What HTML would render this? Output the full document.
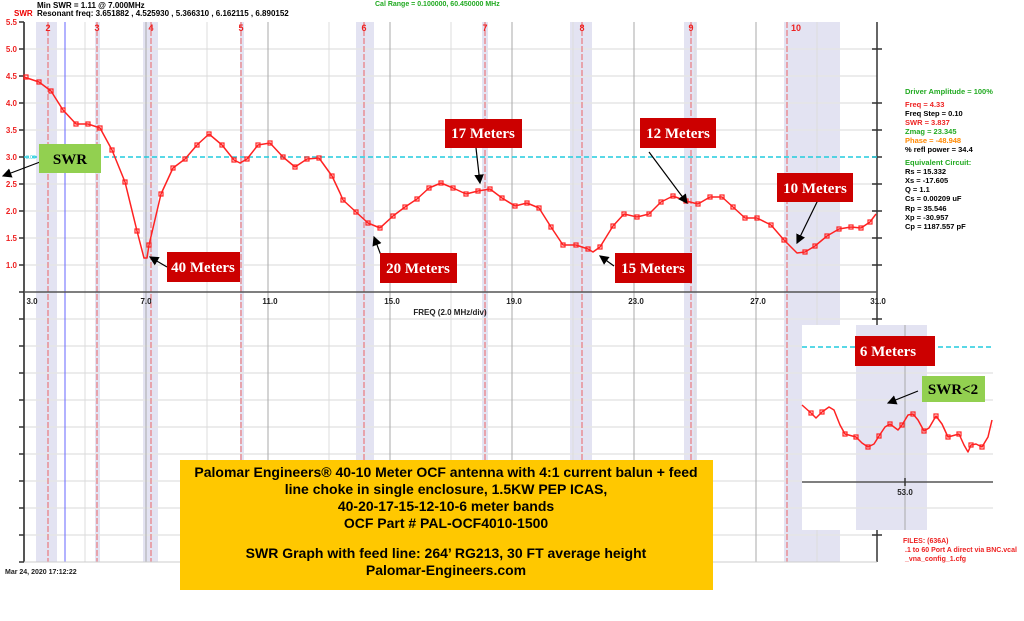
<!DOCTYPE html>
<html><head><meta charset="utf-8"><style>
body{margin:0;background:#fff;width:1024px;height:621px;overflow:hidden;font-family:"Liberation Sans",sans-serif}
svg{display:block}
.t{font-family:"Liberation Sans",sans-serif;font-weight:bold}
.s{font-family:"Liberation Serif",serif;font-weight:bold;fill:#fff;font-size:15px}
</style></head><body>
<svg width="1024" height="621" viewBox="0 0 1024 621">
<text class="t" x="37" y="8" font-size="8" fill="#000">Min SWR =   1.11 @  7.000MHz</text>
<text class="t" x="14" y="16" font-size="8" fill="#e00">SWR</text>
<text class="t" x="37" y="16" font-size="8" fill="#000">Resonant freq:  3.651882 , 4.525930 , 5.366310 , 6.162115 , 6.890152</text>
<text class="t" x="375" y="6" font-size="7" fill="#2a2">Cal Range = 0.100000,  60.450000 MHz</text>
<g fill="#e3e3f2">
<rect x="36" y="22" width="21" height="540"/>
<rect x="95" y="22" width="5" height="540"/>
<rect x="143" y="22" width="15" height="540"/>
<rect x="240" y="22" width="4" height="540"/>
<rect x="356" y="22" width="18" height="540"/>
<rect x="482" y="22" width="6" height="540"/>
<rect x="570" y="22" width="22" height="540"/>
<rect x="684" y="22" width="13" height="540"/>
<rect x="784" y="22" width="56" height="540"/>
</g>
<g stroke="#e6e6e6" stroke-width="1.5">
<line x1="24" y1="49" x2="877" y2="49"/><line x1="24" y1="76" x2="877" y2="76"/><line x1="24" y1="103" x2="877" y2="103"/><line x1="24" y1="130" x2="877" y2="130"/><line x1="24" y1="184" x2="877" y2="184"/><line x1="24" y1="211" x2="877" y2="211"/><line x1="24" y1="238" x2="877" y2="238"/><line x1="24" y1="265" x2="877" y2="265"/>
<line x1="24" y1="319" x2="877" y2="319"/><line x1="24" y1="346" x2="877" y2="346"/><line x1="24" y1="373" x2="877" y2="373"/><line x1="24" y1="400" x2="877" y2="400"/><line x1="24" y1="427" x2="877" y2="427"/><line x1="24" y1="454" x2="877" y2="454"/><line x1="24" y1="481" x2="877" y2="481"/><line x1="24" y1="508" x2="877" y2="508"/><line x1="24" y1="535" x2="877" y2="535"/>
</g>
<g stroke="#dcdcdc" stroke-width="1">
<line x1="85" y1="22" x2="85" y2="562"/><line x1="207" y1="22" x2="207" y2="562"/><line x1="329" y1="22" x2="329" y2="562"/><line x1="451" y1="22" x2="451" y2="562"/><line x1="573" y1="22" x2="573" y2="562"/><line x1="695" y1="22" x2="695" y2="562"/><line x1="817" y1="22" x2="817" y2="562"/>
</g>
<g stroke="#aaa" stroke-width="1">
<line x1="146" y1="22" x2="146" y2="562"/><line x1="268" y1="22" x2="268" y2="562"/><line x1="390" y1="22" x2="390" y2="562"/><line x1="512" y1="22" x2="512" y2="562"/><line x1="634" y1="22" x2="634" y2="562"/><line x1="756" y1="22" x2="756" y2="562"/>
</g>
<line x1="65" y1="22" x2="65" y2="562" stroke="#66f" stroke-width="1"/>
<g stroke="#e44" stroke-width="1" stroke-dasharray="6,2" opacity="0.8">
<line x1="48" y1="22" x2="48" y2="562"/><line x1="97" y1="22" x2="97" y2="562"/><line x1="151" y1="22" x2="151" y2="562"/><line x1="241" y1="22" x2="241" y2="562"/><line x1="364" y1="22" x2="364" y2="562"/><line x1="485" y1="22" x2="485" y2="562"/><line x1="582" y1="22" x2="582" y2="562"/><line x1="691" y1="22" x2="691" y2="562"/><line x1="787" y1="22" x2="787" y2="562"/>
</g>
<g class="t" font-size="9" fill="#e22" text-anchor="middle">
<text x="48" y="31">2</text><text x="97" y="31">3</text><text x="151" y="31">4</text><text x="241" y="31">5</text><text x="364" y="31">6</text><text x="485" y="31">7</text><text x="582" y="31">8</text><text x="691" y="31">9</text><text x="796" y="31">10</text>
</g>
<line x1="24" y1="22" x2="24" y2="562" stroke="#555" stroke-width="2"/>
<line x1="877" y1="22" x2="877" y2="562" stroke="#333" stroke-width="1.5"/>
<line x1="24" y1="292" x2="877" y2="292" stroke="#555" stroke-width="1.5"/>
<line x1="24" y1="562" x2="877" y2="562" stroke="#ccc" stroke-width="1"/>
<g stroke="#333" stroke-width="1.5">
<line x1="19" y1="22" x2="24" y2="22"/><line x1="19" y1="49" x2="24" y2="49"/><line x1="19" y1="76" x2="24" y2="76"/><line x1="19" y1="103" x2="24" y2="103"/><line x1="19" y1="130" x2="24" y2="130"/><line x1="19" y1="157" x2="24" y2="157"/><line x1="19" y1="184" x2="24" y2="184"/><line x1="19" y1="211" x2="24" y2="211"/><line x1="19" y1="238" x2="24" y2="238"/><line x1="19" y1="265" x2="24" y2="265"/><line x1="19" y1="292" x2="24" y2="292"/>
<line x1="19" y1="319" x2="24" y2="319"/><line x1="19" y1="346" x2="24" y2="346"/><line x1="19" y1="373" x2="24" y2="373"/><line x1="19" y1="400" x2="24" y2="400"/><line x1="19" y1="427" x2="24" y2="427"/><line x1="19" y1="454" x2="24" y2="454"/><line x1="19" y1="481" x2="24" y2="481"/><line x1="19" y1="508" x2="24" y2="508"/><line x1="19" y1="535" x2="24" y2="535"/><line x1="19" y1="562" x2="24" y2="562"/>
<line x1="872" y1="49" x2="882" y2="49"/><line x1="872" y1="103" x2="882" y2="103"/><line x1="872" y1="130" x2="882" y2="130"/><line x1="872" y1="157" x2="882" y2="157"/><line x1="872" y1="184" x2="882" y2="184"/><line x1="872" y1="211" x2="882" y2="211"/><line x1="872" y1="238" x2="882" y2="238"/><line x1="872" y1="265" x2="882" y2="265"/><line x1="872" y1="319" x2="882" y2="319"/><line x1="872" y1="373" x2="882" y2="373"/><line x1="872" y1="427" x2="882" y2="427"/><line x1="872" y1="481" x2="882" y2="481"/><line x1="872" y1="535" x2="882" y2="535"/>
</g>
<g class="t" font-size="8" fill="#e22" text-anchor="end">
<text x="17" y="25">5.5</text><text x="17" y="52">5.0</text><text x="17" y="79">4.5</text><text x="17" y="106">4.0</text><text x="17" y="133">3.5</text><text x="17" y="160">3.0</text><text x="17" y="187">2.5</text><text x="17" y="214">2.0</text><text x="17" y="241">1.5</text><text x="17" y="268">1.0</text>
</g>
<g class="t" font-size="8" fill="#222" text-anchor="middle">
<text x="32" y="304">3.0</text><text x="146" y="304">7.0</text><text x="270" y="304">11.0</text><text x="392" y="304">15.0</text><text x="514" y="304">19.0</text><text x="636" y="304">23.0</text><text x="758" y="304">27.0</text><text x="878" y="304">31.0</text>
<text x="450" y="315">FREQ (2.0 MHz/div)</text>
</g>
<text class="t" x="5" y="574" font-size="7" fill="#222">Mar 24, 2020  17:12:22</text>
<line x1="24" y1="157" x2="877" y2="157" stroke="#2cd" stroke-width="1.5" stroke-dasharray="5,3"/>
<text x="26" y="159" font-size="5" fill="#2cd">3.00</text>
<polyline fill="none" stroke="#f22" stroke-width="1.5" stroke-linejoin="round" points="24,77 39,82 51,91 63,110 76,124 88,124 100,128 112,150 125,182 137,231 144,258 147,258 149,245 161,194 173,168 185,159 197,145 209,134 222,145 234,160 240,163 247,159 258,145 270,143 283,157 295,167 307,159 319,158 332,176 340,193 343,200 356,212 368,223 380,228 393,216 405,207 417,199 429,188 441,183 453,188 466,194 478,191 490,189 502,198 515,206 527,203 539,208 551,227 563,245 576,245 588,249 593,252 600,247 613,226 624,214 637,217 649,214 661,202 673,196 686,201 698,204 710,197 722,197 733,207 745,218 757,218 771,225 784,240 797,253 805,252 815,246 827,236 839,229 851,227 861,228 870,222 876,214"/>
<g fill="none" stroke="#f22" stroke-width="1.2">
<rect x="24" y="75" width="4" height="4"/><rect x="37" y="80" width="4" height="4"/><rect x="49" y="89" width="4" height="4"/><rect x="61" y="108" width="4" height="4"/><rect x="74" y="122" width="4" height="4"/><rect x="86" y="122" width="4" height="4"/><rect x="98" y="126" width="4" height="4"/><rect x="110" y="148" width="4" height="4"/><rect x="123" y="180" width="4" height="4"/><rect x="135" y="229" width="4" height="4"/><rect x="147" y="243" width="4" height="4"/><rect x="159" y="192" width="4" height="4"/><rect x="171" y="166" width="4" height="4"/><rect x="183" y="157" width="4" height="4"/><rect x="195" y="143" width="4" height="4"/><rect x="207" y="132" width="4" height="4"/><rect x="220" y="143" width="4" height="4"/><rect x="232" y="158" width="4" height="4"/><rect x="245" y="157" width="4" height="4"/><rect x="256" y="143" width="4" height="4"/><rect x="268" y="141" width="4" height="4"/><rect x="281" y="155" width="4" height="4"/><rect x="293" y="165" width="4" height="4"/><rect x="305" y="157" width="4" height="4"/><rect x="317" y="156" width="4" height="4"/><rect x="330" y="174" width="4" height="4"/><rect x="341" y="198" width="4" height="4"/><rect x="354" y="210" width="4" height="4"/><rect x="366" y="221" width="4" height="4"/><rect x="378" y="226" width="4" height="4"/><rect x="391" y="214" width="4" height="4"/><rect x="403" y="205" width="4" height="4"/><rect x="415" y="197" width="4" height="4"/><rect x="427" y="186" width="4" height="4"/><rect x="439" y="181" width="4" height="4"/><rect x="451" y="186" width="4" height="4"/><rect x="464" y="192" width="4" height="4"/><rect x="476" y="189" width="4" height="4"/><rect x="488" y="187" width="4" height="4"/><rect x="500" y="196" width="4" height="4"/><rect x="513" y="204" width="4" height="4"/><rect x="525" y="201" width="4" height="4"/><rect x="537" y="206" width="4" height="4"/><rect x="549" y="225" width="4" height="4"/><rect x="561" y="243" width="4" height="4"/><rect x="574" y="243" width="4" height="4"/><rect x="586" y="247" width="4" height="4"/><rect x="598" y="245" width="4" height="4"/><rect x="611" y="224" width="4" height="4"/><rect x="622" y="212" width="4" height="4"/><rect x="635" y="215" width="4" height="4"/><rect x="647" y="212" width="4" height="4"/><rect x="659" y="200" width="4" height="4"/><rect x="671" y="194" width="4" height="4"/><rect x="684" y="199" width="4" height="4"/><rect x="696" y="202" width="4" height="4"/><rect x="708" y="195" width="4" height="4"/><rect x="720" y="195" width="4" height="4"/><rect x="731" y="205" width="4" height="4"/><rect x="743" y="216" width="4" height="4"/><rect x="755" y="216" width="4" height="4"/><rect x="769" y="223" width="4" height="4"/><rect x="782" y="238" width="4" height="4"/><rect x="803" y="250" width="4" height="4"/><rect x="813" y="244" width="4" height="4"/><rect x="825" y="234" width="4" height="4"/><rect x="837" y="227" width="4" height="4"/><rect x="849" y="225" width="4" height="4"/><rect x="859" y="226" width="4" height="4"/><rect x="868" y="220" width="4" height="4"/>
</g>
<rect x="802" y="325" width="191" height="205" fill="#fff"/>
<rect x="856" y="325" width="71" height="205" fill="#e3e3f2"/>
<g stroke="#e6e6e6" stroke-width="1.5"><line x1="802" y1="373" x2="993" y2="373"/><line x1="802" y1="400" x2="993" y2="400"/><line x1="802" y1="427" x2="993" y2="427"/><line x1="802" y1="454" x2="993" y2="454"/><line x1="802" y1="508" x2="993" y2="508"/></g>
<line x1="905" y1="325" x2="905" y2="530" stroke="#aaa"/>
<line x1="802" y1="347" x2="993" y2="347" stroke="#2cd" stroke-width="1.5" stroke-dasharray="5,3"/>
<line x1="802" y1="482" x2="993" y2="482" stroke="#555" stroke-width="1.5"/>
<line x1="905" y1="478" x2="905" y2="486" stroke="#333" stroke-width="1.5"/>
<text class="t" x="905" y="495" font-size="8" fill="#222" text-anchor="middle">53.0</text>
<polyline fill="none" stroke="#f22" stroke-width="1.5" stroke-linejoin="round" points="802,405 811,413 816,418 822,412 829,407 834,410 840,425 845,434 856,437 862,443 868,447 874,444 879,436 885,427 890,424 898,430 902,425 908,415 913,414 918,420 924,431 929,428 936,416 942,424 948,437 959,434 964,445 968,452 971,445 976,444 982,447 988,437 992,420"/>
<g fill="none" stroke="#f22" stroke-width="1.2"><rect x="809" y="411" width="4" height="4"/><rect x="820" y="410" width="4" height="4"/><rect x="843" y="432" width="4" height="4"/><rect x="854" y="435" width="4" height="4"/><rect x="866" y="445" width="4" height="4"/><rect x="877" y="434" width="4" height="4"/><rect x="888" y="422" width="4" height="4"/><rect x="900" y="423" width="4" height="4"/><rect x="911" y="412" width="4" height="4"/><rect x="922" y="429" width="4" height="4"/><rect x="934" y="414" width="4" height="4"/><rect x="946" y="435" width="4" height="4"/><rect x="957" y="432" width="4" height="4"/><rect x="969" y="443" width="4" height="4"/><rect x="980" y="445" width="4" height="4"/></g>
<text class="t" x="903" y="543" font-size="7" fill="#e22">FILES: (636A)</text>
<text class="t" x="905" y="552" font-size="7" fill="#e22">.1 to 60 Port A direct via BNC.vcal</text>
<text class="t" x="905" y="561" font-size="7" fill="#e22">_vna_config_1.cfg</text>
<g class="t" font-size="7.5">
<text x="905" y="94" fill="#2a2">Driver Amplitude = 100%</text>
<text x="905" y="107" fill="#e22">Freq = 4.33</text>
<text x="905" y="116" fill="#000">Freq Step = 0.10</text>
<text x="905" y="125" fill="#e22">SWR =   3.837</text>
<text x="905" y="134" fill="#2a2">Zmag =   23.345</text>
<text x="905" y="143" fill="#f80">Phase =  -48.948</text>
<text x="905" y="152" fill="#000">% refl power = 34.4</text>
<text x="905" y="165" fill="#2a2">Equivalent Circuit:</text>
<text x="905" y="174" fill="#000">Rs =   15.332</text>
<text x="905" y="183" fill="#000">Xs =  -17.605</text>
<text x="905" y="192" fill="#000">Q =  1.1</text>
<text x="905" y="201" fill="#000">Cs =   0.00209  uF</text>
<text x="905" y="211" fill="#000">Rp =   35.546</text>
<text x="905" y="220" fill="#000">Xp =  -30.957</text>
<text x="905" y="229" fill="#000">Cp = 1187.557  pF</text>
</g>
<defs><marker id="ar" markerWidth="8" markerHeight="8" refX="7" refY="4" orient="auto"><path d="M0,0 L8,4 L0,8 z" fill="#000"/></marker></defs>
<g stroke="#000" stroke-width="1.2" marker-end="url(#ar)">
<line x1="40" y1="162" x2="3" y2="176"/>
<line x1="167" y1="267" x2="150" y2="257"/>
<line x1="382" y1="258" x2="374" y2="237"/>
<line x1="476" y1="148" x2="480" y2="183"/>
<line x1="649" y1="152" x2="687" y2="203"/>
<line x1="614" y1="266" x2="600" y2="256"/>
<line x1="818" y1="200" x2="797" y2="243"/>
<line x1="918" y1="391" x2="888" y2="403"/>
</g>
<rect x="39" y="144" width="62" height="29" fill="#92d050"/><text x="70" y="164" class="s" style="fill:#000" font-size="15" text-anchor="middle">SWR</text>
<rect x="167" y="252" width="73" height="30" fill="#c00"/><text x="203" y="272" class="s" text-anchor="middle">40 Meters</text>
<rect x="380" y="253" width="77" height="30" fill="#c00"/><text x="418" y="273" class="s" text-anchor="middle">20 Meters</text>
<rect x="615" y="253" width="77" height="30" fill="#c00"/><text x="653" y="273" class="s" text-anchor="middle">15 Meters</text>
<rect x="445" y="119" width="77" height="29" fill="#c00"/><text x="483" y="138" class="s" text-anchor="middle">17 Meters</text>
<rect x="640" y="118" width="76" height="30" fill="#c00"/><text x="678" y="138" class="s" text-anchor="middle">12 Meters</text>
<rect x="777" y="173" width="76" height="29" fill="#c00"/><text x="815" y="193" class="s" text-anchor="middle">10 Meters</text>
<rect x="855" y="336" width="80" height="30" fill="#c00"/><text x="888" y="356" class="s" text-anchor="middle">6 Meters</text>
<rect x="922" y="376" width="63" height="26" fill="#92d050"/><text x="953" y="394" class="s" style="fill:#000" font-size="14" text-anchor="middle">SWR&lt;2</text>
<rect x="180" y="460" width="533" height="130" fill="#ffc800"/>
<g class="t" font-size="14" fill="#000" text-anchor="middle">
<text x="446" y="477">Palomar Engineers® 40-10 Meter OCF antenna with 4:1 current balun + feed</text>
<text x="446" y="494">line choke in single enclosure, 1.5KW PEP ICAS,</text>
<text x="446" y="511">40-20-17-15-12-10-6 meter bands</text>
<text x="446" y="528">OCF Part # PAL-OCF4010-1500</text>
<text x="446" y="558">SWR Graph with feed line: 264’ RG213, 30 FT average height</text>
<text x="446" y="575">Palomar-Engineers.com</text>
</g>
</svg>
</body></html>
